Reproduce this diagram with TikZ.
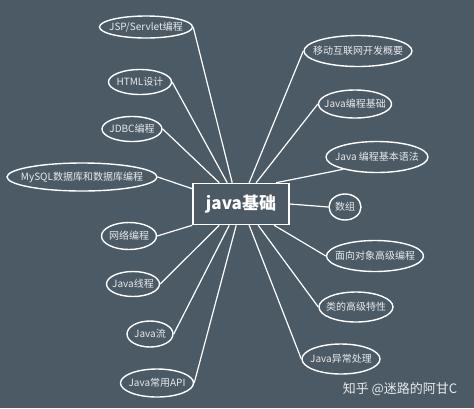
\documentclass[tikz,border=0pt]{standalone}
\usepackage{fontspec}
\setmainfont{Noto Sans CJK SC}
\usetikzlibrary{shapes.geometric}

\definecolor{bgslate}{RGB}{75,90,101}
\definecolor{lighttext}{RGB}{232,234,236}

\begin{document}
\begin{tikzpicture}[
      x=1pt,y=-1pt,
      topic/.style={ellipse,draw=white,line width=1.4pt,minimum width=#1,minimum height=27pt,inner sep=0pt},
      hub/.style={rectangle,draw=white,line width=1.6pt,minimum width=96pt,minimum height=41pt,text=white,font=\fontsize{17}{19}\selectfont\bfseries},
      link/.style={draw=white,line width=1.2pt},
      every label/.style={text=lighttext,font=\fontsize{10}{12}\selectfont,inner sep=0pt}
    ]
    \fill[bgslate] (0,0) rectangle (474,408);
    \useasboundingbox (0,0) rectangle (474,408);

    \node[hub] (java) at (241,204) {java基础};

    % left branch
    \node[topic=93pt,minimum height=22pt,label=center:{JSP/Servlet编程}] (jsp) at (146,27) {};
    \node[topic=63pt,minimum height=25pt,label=center:{HTML设计}] (html) at (140,82) {};
    \node[topic=60pt,minimum height=25pt,label=center:{JDBC编程}] (jdbc) at (132,129) {};
    \node[topic=150pt,minimum height=28pt,label=center:{MySQL数据库和数据库编程}] (mysql) at (82,177) {};
    \node[topic=55pt,label=center:{网络编程}] (net) at (129,236) {};
    \node[topic=53pt,minimum height=25pt,label=center:{Java线程}] (thread) at (133,284) {};
    \node[topic=46pt,minimum height=26pt,label=center:{Java流}] (stream) at (150,334) {};
    \node[topic=73pt,minimum height=28pt,label=center:{Java常用API}] (api) at (157,383) {};

    % right branch
    \node[topic=108pt,minimum height=31pt,label=center:{移动互联网开发概要}] (mobile) at (358,51) {};
    \node[topic=73pt,minimum height=28pt,label=center:{Java编程基础}] (basic) at (355,104) {};
    \node[topic=102pt,minimum height=31pt,label=center:{Java 编程基本语法}] (syntax) at (377,157) {};
    \node[topic=32pt,minimum height=26pt,label=center:{数组}] (array) at (345,207) {};
    \node[topic=97pt,minimum height=31pt,label=center:{面向对象高级编程}] (oop) at (375,256) {};
    \node[topic=74pt,minimum height=30pt,label=center:{类的高级特性}] (adv) at (356,307) {};
    \node[topic=78pt,minimum height=30pt,label=center:{Java异常处理}] (exc) at (341,359) {};

    \draw[link] (jsp.east) -- ([xshift=40pt]java.north west);
    \draw[link] (html.east) -- ([xshift=35pt]java.north west);
    \draw[link] (jdbc.east) -- ([xshift=27pt]java.north west);
    \draw[link] (mysql.east) -- ([yshift=-6pt]java.north west);
    \draw[link] (net.east) -- (java.south west);
    \draw[link] (thread.east) -- ([xshift=27pt]java.south west);
    \draw[link] (stream.east) -- ([xshift=37pt]java.south west);
    \draw[link] (api.east) -- ([xshift=44pt]java.south west);

    \draw[link] (mobile.west) -- ([xshift=57pt]java.north west);
    \draw[link] (basic.west) -- ([xshift=64pt]java.north west);
    \draw[link] (syntax.200) -- ([xshift=84pt]java.north west);
    \draw[link] (array.west) -- (java.east);
    \draw[link] (oop.west) -- ([xshift=82pt]java.south west);
    \draw[link] (adv.west) -- ([xshift=66pt]java.south west);
    \draw[link] (exc.west) -- ([xshift=57pt]java.south west);

    \node[text=lighttext,font=\fontsize{13}{15}\selectfont] (mark) at (400,389) {知乎 @迷路的阿甘C};
  \end{tikzpicture}
\end{document}
